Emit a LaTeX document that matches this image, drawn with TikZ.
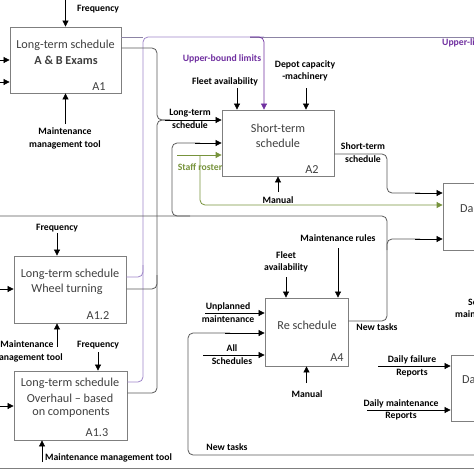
\documentclass[tikz,border=0pt]{standalone}
\usepackage{fontspec}
\setmainfont{Carlito}
\usetikzlibrary{arrows.meta}
\definecolor{boxc}{HTML}{7F7F7F}
\definecolor{linec}{HTML}{595959}
\definecolor{purpl}{HTML}{7030A0}
\definecolor{lav}{HTML}{9E86C8}
\definecolor{topl}{HTML}{8C84A4}
\definecolor{grn}{HTML}{77933C}
\definecolor{txt}{HTML}{404040}
\begin{document}
\begin{tikzpicture}[x=1pt,y=-1pt,
 box/.style={draw=boxc, line width=0.8pt, fill=white, inner sep=0pt},
 btext/.style={font=\fontsize{12.2}{15}\selectfont, text=txt, align=center, inner sep=0pt},
 lab/.style={font=\bfseries\fontsize{9.7}{12.5}\selectfont, align=center, inner sep=0pt},
 arr/.style={draw=black, line width=0.7pt, -{Triangle[length=6pt,width=6pt]}},
 con/.style={draw=linec, line width=0.8pt, rounded corners=5pt},
 pcon/.style={draw=lav, line width=0.8pt, rounded corners=5pt},
 gcon/.style={draw=grn, line width=0.8pt, rounded corners=5pt},
]
\useasboundingbox (0,0) rectangle (474,474);

% ---------- boxes ----------
\node[box, minimum width=111pt, minimum height=66pt] (A1) at (65.5,60) {};
\node[box, minimum width=112pt, minimum height=66pt] (A2) at (278,143) {};
\node[box, minimum width=112pt, minimum height=67pt] (A12) at (70,289.5) {};
\node[box, minimum width=113pt, minimum height=69pt] (A13) at (70.5,405.5) {};
\node[box, minimum width=83pt, minimum height=68pt] (A4) at (306.5,332) {};
\node[box, minimum width=77pt, minimum height=67pt] (D1) at (481.5,216.5) {};
\node[box, minimum width=79pt, minimum height=66pt] (D2) at (490.5,388) {};

% ---------- box texts ----------
\node[btext] (t1a) at (65.5,45) {Long-term schedule};
\node[btext, font=\bfseries\fontsize{12.2}{15}\selectfont] (t1b) at (66,60) {A \& B Exams};
\node[btext] (t1c) at (99,87) {A1};
\node[btext] (t2a) at (278,128) {Short-term};
\node[btext] (t2b) at (278,143) {schedule};
\node[btext] (t2c) at (312,170) {A2};
\node[btext] (t3a) at (70,274) {Long-term schedule};
\node[btext] (t3b) at (67,289) {Wheel turning};
\node[btext] (t3c) at (98,316) {A1.2};
\node[btext] (t4a) at (70,383) {Long-term schedule};
\node[btext] (t4b) at (70,398) {Overhaul -- based};
\node[btext] (t4c) at (71,413) {on components};
\node[btext] (t4d) at (97,433) {A1.3};
\node[btext] (t5a) at (307,325) {Re schedule};
\node[btext] (t5b) at (337,358) {A4};
\node[btext, anchor=west] (t6) at (460,209) {Daily};
\node[btext, anchor=west] (t7) at (462,380) {Daily};

% ---------- connectors (drawn under arrows) ----------
% purple upper-bound network
\draw[pcon] (A13.east |- 0,382) -- (143,382) -- (143,37) -- (264,37);
\draw[pcon] (A12.east |- 0,277) -- (143,277) -- (143,265);
\draw[draw=topl, line width=0.8pt] (A1.east |- 0,37) -- (143,37);
\draw[draw=topl, line width=0.8pt] (250,37) -- (474,37);
\draw[arr, draw=purpl, rounded corners=5pt] (250,37) -- (264,37) -- (264,0 |- A2.north);
% gray long-term schedule network
\draw[con] (A1.east |- 0,48) -- (157,48) -- (157,120) -- (170,120);
\draw[con] (A13.east |- 0,393) -- (157,393) -- (157,120) -- (170,120);
\draw[con] (A12.east |- 0,289) -- (157,289) -- (157,275);
\draw[arr] (165,120) -- (A2.west |- 0,120);
% new tasks feedback
\draw[con] (A4.east |- 0,321) -- (387,321) -- (387,239) -- (420,239);
\draw[arr] (415,239) -- (D1.west |- 0,239);
\draw[con] (387,250) -- (387,216) -- (0,216);
\draw[con] (190,216) -- (172,216) -- (172,143) -- (200,143);
\draw[arr] (195,143) -- (A2.west |- 0,143);
% short-term schedule
\draw[con] (A2.east |- 0,154) -- (387,154) -- (387,193) -- (420,193);
\draw[arr] (415,193) -- (D1.west |- 0,193);
% staff roster
\draw[gcon, -{Triangle[length=6pt,width=6pt]}] (177,155) -- (A2.west |- 0,155);
\draw[gcon, -{Triangle[length=6pt,width=6pt]}] (200,155) -- (200,205) -- (D1.west |- 0,205);
% bottom loop
\draw[con] (474,455) -- (188,455) -- (188,333) -- (230,333);
\draw[arr] (225,333) -- (A4.west |- 0,333);
% bottom separator
\draw[draw=boxc, line width=0.8pt] (0,468) -- (474,468);

% ---------- A1 arrows ----------
\draw[arr] (A1.north |- 0,0) -- (A1.north);
\draw[arr] (A1.south |- 0,124) -- (A1.south);
\draw[arr] (0,60) -- (A1.west |- 0,60);
\draw[arr] (0,82) -- (A1.west |- 0,82);
\node[lab] (f1) at (98,9) {Frequency};
\node[lab] (m1) at (65,138.5) {Maintenance\\management tool};

% ---------- A2 arrows ----------
\node[lab, text=purpl] (ub) at (222,59) {Upper-bound limits};
\node[lab] (fa2) at (225,82) {Fleet availability};
\node[lab] (dc) at (305,71) {Depot capacity\\-machinery};
\draw[arr] (237,88) -- (237,0 |- A2.north);
\draw[arr] (306,88) -- (306,0 |- A2.north);
\draw[arr] (A2.south |- 0,192) -- (A2.south);
\node[lab] (man2) at (278,200) {Manual};
\node[lab] (lts) at (190,119) {Long-term\\schedule};
\node[lab, text=grn] (sr) at (200,167) {Staff roster};
\node[lab] (sts) at (363,152.5) {Short-term\\schedule};
\node[lab, text=purpl, anchor=west] (ub2) at (442,43) {Upper-limits};

% ---------- A1.2 arrows ----------
\draw[arr] (57,233) -- (57,0 |- A12.north);
\draw[arr] (57,347) -- (57,0 |- A12.south);
\draw[arr] (0,289) -- (A12.west |- 0,289);
\node[lab] (f2) at (57,228) {Frequency};
\node[lab] (m2) at (27,351.5) {Maintenance\\management tool};

% ---------- A1.3 arrows ----------
\draw[arr] (98,352) -- (98,0 |- A13.north);
\draw[arr] (42,462) -- (42,0 |- A13.south);
\draw[arr] (0,406) -- (A13.west |- 0,406);
\node[lab] (f3) at (98,345) {Frequency};
\node[lab, anchor=west] (m3) at (45,458) {Maintenance management tool};

% ---------- A4 arrows ----------
\draw[arr] (286,277) -- (286,0 |- A4.north);
\draw[arr] (338,248) -- (338,0 |- A4.north);
\draw[arr] (A4.south |- 0,383) -- (A4.south);
\draw[arr] (205,313) -- (A4.west |- 0,313);
\draw[arr] (203,355) -- (A4.west |- 0,355);
\node[lab] (fa4) at (286,262) {Fleet\\availability};
\node[lab] (mr) at (338,238) {Maintenance rules};
\node[lab] (man4) at (307,394) {Manual};
\node[lab] (up) at (228,312.5) {Unplanned\\maintenance};
\node[lab] (as) at (232,354.5) {All\\Schedules};
\node[lab] (nt1) at (377,327) {New tasks};
\node[lab] (nt2) at (227,447) {New tasks};

% ---------- D2 arrows ----------
\draw[arr] (378,366) -- (D2.west |- 0,366);
\draw[arr] (367,410) -- (D2.west |- 0,410);
\node[lab] (dfr) at (412,366.5) {Daily failure\\Reports};
\node[lab] (dmr) at (401,410) {Daily maintenance\\Reports};
\node[lab, anchor=west] (sm1) at (468,302) {Scheduled};
\node[lab, anchor=west] (sm2) at (455,314) {maintenance};
\end{tikzpicture}
\end{document}
